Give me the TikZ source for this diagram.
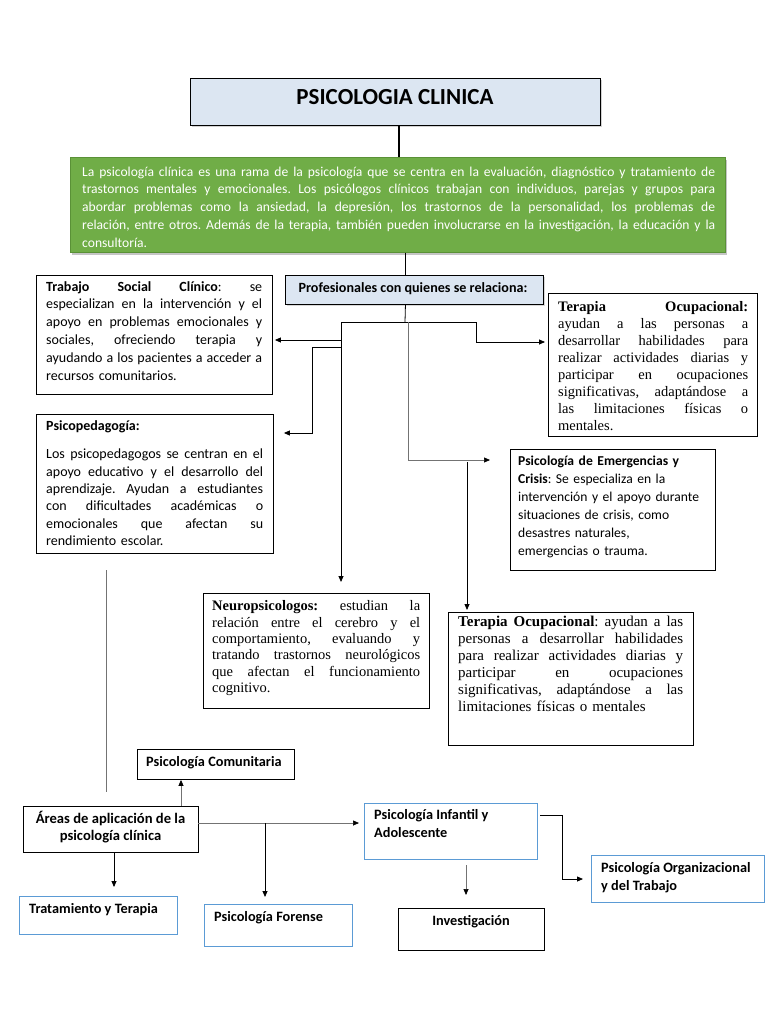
\documentclass[tikz,border=0pt]{standalone}
\usepackage{fontspec}
\setmainfont{Carlito}
\newfontfamily\tnr{Liberation Serif}
\usetikzlibrary{arrows.meta,shadows,calc}
\definecolor{titlefill}{RGB}{220,230,242}
\definecolor{greenfill}{RGB}{112,173,71}
\definecolor{greenbd}{RGB}{90,145,55}
\definecolor{bluebd}{RGB}{91,155,213}
\frenchspacing
\newcommand\J[2]{\leavevmode\hbox to #1{\spaceskip=\fontdimen2\font plus 1fil\relax #2}}
\tikzset{
  box/.style={draw, line width=0.9pt, anchor=north west, inner sep=0pt},
  bluebox/.style={box, draw=bluebd, line width=1.3pt},
  txt/.style={anchor=north west, inner sep=0pt, align=left},
  bot/.style={font=\bfseries\fontsize{14.3}{18}\selectfont},
  ln/.style={line width=0.8pt},
  gln/.style={line width=0.7pt, draw=black!55},
  arr/.style={-{Triangle[length=6pt,width=5pt]}, line width=0.8pt},
  garr/.style={-{Triangle[length=6pt,width=5pt,color=black]}, line width=0.7pt, draw=black!55}
}
\begin{document}
\begin{tikzpicture}[x=1pt,y=-1pt]
\useasboundingbox[fill=white] (0,0) rectangle (768,1024);

% ---------- boxes ----------
\node[box, fill=titlefill, minimum width=410pt, minimum height=47pt,
      drop shadow={shadow xshift=1.5pt, shadow yshift=-1.5pt, fill=black!35}] (title) at (190,78) {};
\node[box, fill=greenfill, draw=greenbd, line width=0.6pt, minimum width=655pt, minimum height=95pt,
      drop shadow={shadow xshift=2pt, shadow yshift=-3pt, fill=black!45}] (green) at (70,157) {};
\node[box, fill=titlefill, minimum width=258pt, minimum height=29pt,
      drop shadow={shadow xshift=1.5pt, shadow yshift=-1.5pt, fill=black!30}] (prof) at (285,275) {};
\node[box, minimum width=236pt, minimum height=119pt] (ts) at (36,275) {};
\node[box, minimum width=237pt, minimum height=139pt] (pp) at (36,414) {};
\node[box, minimum width=209pt, minimum height=143pt] (to1) at (548,293) {};
\node[box, minimum width=205pt, minimum height=121pt] (em) at (510,449) {};
\node[box, minimum width=226pt, minimum height=115pt] (neuro) at (203,593) {};
\node[box, minimum width=245pt, minimum height=133pt] (to2) at (448,612) {};
\node[box, minimum width=157pt, minimum height=30pt] (com) at (137,749) {};
\node[box, minimum width=175pt, minimum height=46pt] (areas) at (23,806) {};
\node[bluebox, minimum width=158pt, minimum height=38pt] (trat) at (19,896) {};
\node[bluebox, minimum width=148pt, minimum height=42pt] (foren) at (204,904) {};
\node[bluebox, minimum width=173pt, minimum height=56pt] (inf) at (364,803) {};
\node[box, minimum width=146pt, minimum height=42pt] (inv) at (398,908) {};
\node[bluebox, minimum width=173pt, minimum height=47pt] (org) at (591,855) {};

% ---------- texts ----------
\node[font=\bfseries\fontsize{23}{27}\selectfont] (titlet) at (395,97) {PSICOLOGIA CLINICA};
\node[txt, text width=633pt, text=white, font=\fontsize{13.6}{17.8}\selectfont] (greent) at (82,163.5) {\strut
\J{633pt}{La psicología clínica es una rama de la psicología que se centra en la evaluación, diagnóstico y tratamiento de}\\
\J{633pt}{trastornos mentales y emocionales. Los psicólogos clínicos trabajan con individuos, parejas y grupos para}\\
\J{633pt}{abordar problemas como la ansiedad, la depresión, los trastornos de la personalidad, los problemas de}\\
\J{633pt}{relación, entre otros. Además de la terapia, también pueden involucrarse en la investigación, la educación y la}\\
consultoría.};
\node[font=\bfseries\fontsize{14.1}{17}\selectfont] (proft) at (413,289) {Profesionales con quienes se relaciona:};

\node[txt, font=\fontsize{14}{17.8}\selectfont, text width=216pt] (tst) at (46,278.5) {\strut
\J{216pt}{\textbf{Trabajo Social Clínico}: se}\\
\J{216pt}{especializan en la intervención y el}\\
\J{216pt}{apoyo en problemas emocionales y}\\
\J{216pt}{sociales, ofreciendo terapia y}\\
\J{216pt}{ayudando a los pacientes a acceder a}\\
recursos comunitarios.};

\node[txt, font=\fontsize{14}{17.4}\selectfont, text width=217pt] (ppt) at (46,418.5) {\strut
\textbf{Psicopedagogía:}\\[10.4pt]
\J{217pt}{Los psicopedagogos se centran en el}\\
\J{217pt}{apoyo educativo y el desarrollo del}\\
\J{217pt}{aprendizaje. Ayudan a estudiantes}\\
\J{217pt}{con dificultades académicas o}\\
\J{217pt}{emocionales que afectan su}\\
rendimiento escolar.};

\node[txt, font=\tnr\fontsize{14.5}{17.1}\selectfont, text width=190pt] (to1t) at (558,299) {\strut
\J{190pt}{\textbf{Terapia Ocupacional:}}\\
\J{190pt}{ayudan a las personas a}\\
\J{190pt}{desarrollar habilidades para}\\
\J{190pt}{realizar actividades diarias y}\\
\J{190pt}{participar en ocupaciones}\\
\J{190pt}{significativas, adaptándose a}\\
\J{190pt}{las limitaciones físicas o}\\
mentales.};

\node[txt, font=\fontsize{13.6}{18}\selectfont, text width=195pt] (emt) at (518,453) {\strut
\textbf{Psicología de Emergencias y}\\
\textbf{Crisis}: Se especializa en la\\
intervención y el apoyo durante\\
situaciones de crisis, como\\
desastres naturales,\\
emergencias o trauma.};

\node[txt, font=\tnr\fontsize{14.5}{16.4}\selectfont, text width=208pt] (neurot) at (212,599) {\strut
\J{208pt}{\textbf{Neuropsicologos:} estudian la}\\
\J{208pt}{relación entre el cerebro y el}\\
\J{208pt}{comportamiento, evaluando y}\\
\J{208pt}{tratando trastornos neurológicos}\\
\J{208pt}{que afectan el funcionamiento}\\
cognitivo.};

\node[txt, font=\tnr\fontsize{15}{17}\selectfont, text width=225pt] (to2t) at (458,614.4) {\strut
\J{225pt}{\textbf{Terapia Ocupacional}: ayudan a las}\\
\J{225pt}{personas a desarrollar habilidades}\\
\J{225pt}{para realizar actividades diarias y}\\
\J{225pt}{participar en ocupaciones}\\
\J{225pt}{significativas, adaptándose a las}\\
limitaciones físicas o mentales};

\node[txt, bot] (comt) at (146,753.5) {\strut Psicología Comunitaria};
\node[txt, font=\bfseries\fontsize{14.6}{17.5}\selectfont, anchor=north, align=center] (areast) at (110.5,811) {\strut Áreas de aplicación de la\\ psicología clínica};
\node[txt, bot] (tratt) at (29,901) {\strut Tratamiento y Terapia};
\node[txt, bot] (forent) at (214,908.5) {\strut Psicología Forense};
\node[txt, bot] (inft) at (374,806.5) {\strut Psicología Infantil y\\ Adolescente};
\node[txt, bot, anchor=north, align=center] (invt) at (471,912.5) {\strut Investigación};
\node[txt, bot] (orgt) at (601,859.5) {\strut Psicología Organizacional\\ y del Trabajo};

% ---------- connectors ----------
\draw[line width=2pt] ([xshift=4pt]title.south) -- ([xshift=4pt]title.south |- green.north);
\draw[line width=1.8pt] ([xshift=-9pt]prof.north |- green.south) -- ([xshift=-9pt]prof.north);

\coordinate (j1) at (405,322);
\coordinate (jL) at (341,322);
\coordinate (a1) at (341,340);
\coordinate (a2) at (341,347);
\coordinate (b2) at (312,433);
\coordinate (c1) at (476,342);
\coordinate (d1) at (408,322);
\coordinate (d2) at (408,460);
\coordinate (e1) at (467,462);
\coordinate (f1) at (106,570);
\coordinate (f2) at (106,792);
\coordinate (g1) at (181,806);
\coordinate (h1) at (114,852);
\coordinate (k1) at (198,823);
\coordinate (k2) at (265,823);
\coordinate (m1) at (466,865);
\coordinate (n1) at (540,815);
\coordinate (n2) at (562,879);

\draw[ln] ([xshift=-9pt]prof.south) -- (j1);
\draw[ln] (j1) -- (jL);
\draw[arr, shorten >=11pt] (jL) -- (jL |- neuro.north);
\draw[arr, shorten >=2pt] (a1) -- (a1 -| ts.east);
\draw[arr, shorten >=10pt] (a2) -| (b2) -- (b2 -| pp.east);
\draw[arr, shorten >=3pt] (j1) -| (c1) -- (c1 -| to1.west);
\draw[garr, shorten >=20pt] (d1) -- (d2) -- (d2 -| em.west);
\draw[arr, shorten >=2pt] (e1) -- (e1 |- to2.north);

\draw[gln] (f1) -- (f2);
\draw[garr] (g1) -- (g1 |- com.south);
\draw[arr, shorten >=9pt] (h1) -- (h1 |- trat.north);
\draw[garr, shorten >=5pt] (k1) -- (k1 -| inf.west);
\draw[arr, shorten >=7pt] (k2) -- (k2 |- foren.north);
\draw[garr, shorten >=13pt] (m1) -- (m1 |- inv.north);
\draw[arr, shorten >=8pt] (n1) -| (n2) -- (n2 -| org.west);
\end{tikzpicture}
\end{document}
